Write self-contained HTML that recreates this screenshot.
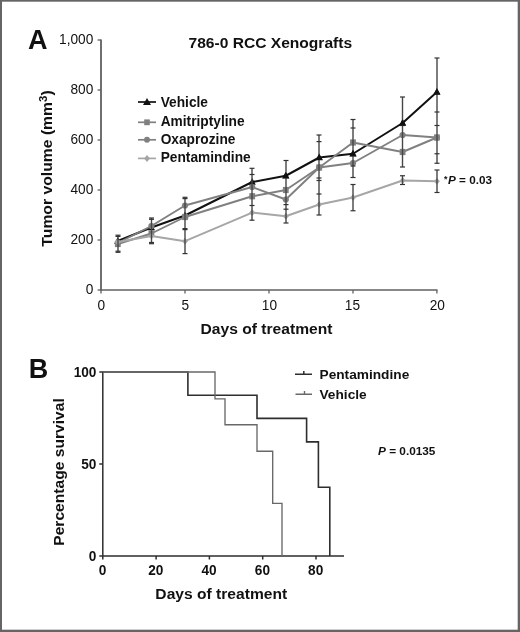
<!DOCTYPE html>
<html><head><meta charset="utf-8"><title>Figure</title>
<style>
html,body{margin:0;padding:0;background:#fff;}
body{width:520px;height:632px;overflow:hidden;font-family:"Liberation Sans",sans-serif;}
svg{display:block}
text{font-family:"Liberation Sans",sans-serif;fill:#111}
.b{font-weight:bold}
</style></head><body>
<svg width="520" height="632" viewBox="0 0 520 632">
<rect x="0" y="0" width="520" height="632" fill="#fff"/>
<g fill="#656565"><rect x="0" y="0" width="2" height="632"/><rect x="0" y="0" width="520" height="1.7"/><rect x="517.7" y="0" width="2.3" height="632"/><rect x="0" y="629.7" width="520" height="2.3"/></g>

<g stroke="#606060" stroke-width="1.7" fill="none">
<path d="M101.0,39.4V290.7" stroke-width="1.8"/>
<path d="M101.0,290.0H437.5" stroke-width="1.4"/>
<path d="M97.6,290.0H101.0" stroke-width="1.3"/>
<path d="M97.6,240.0H101.0" stroke-width="1.3"/>
<path d="M97.6,190.0H101.0" stroke-width="1.3"/>
<path d="M97.6,140.0H101.0" stroke-width="1.3"/>
<path d="M97.6,90.0H101.0" stroke-width="1.3"/>
<path d="M97.6,40.0H101.0" stroke-width="1.3"/>
<path d="M101.0,290.0V293.4" stroke-width="1.3"/>
<path d="M185.0,290.0V293.4" stroke-width="1.3"/>
<path d="M269.0,290.0V293.4" stroke-width="1.3"/>
<path d="M353.0,290.0V293.4" stroke-width="1.3"/>
<path d="M436.9,290.0V293.4" stroke-width="1.3"/>
</g>
<polyline points="117.8,241 151.4,227.5 185.0,215.5 252.2,182 285.8,175.75 319.2,157.5 353.0,153.75 402.6,123 436.9,92" fill="none" stroke="#111" stroke-width="2.0" stroke-linejoin="round"/>
<path d="M117.8,237L121.4,243.8H114.2Z" fill="#111"/>
<path d="M151.4,223.5L155.0,230.3H147.8Z" fill="#111"/>
<path d="M185.0,211.5L188.6,218.3H181.4Z" fill="#111"/>
<path d="M252.2,178L255.8,184.8H248.6Z" fill="#111"/>
<path d="M285.8,171.75L289.4,178.55H282.2Z" fill="#111"/>
<path d="M319.2,153.5L322.8,160.3H315.6Z" fill="#111"/>
<path d="M353.0,149.75L356.6,156.55H349.4Z" fill="#111"/>
<path d="M402.6,119L406.2,125.8H399.0Z" fill="#111"/>
<path d="M436.9,88L440.5,94.8H433.3Z" fill="#111"/>
<polyline points="117.8,244 151.4,233.5 185.0,217 252.2,196.25 285.8,190 319.2,167.5 353.0,142.5 402.6,152 436.9,137.5" fill="none" stroke="#808080" stroke-width="1.9" stroke-linejoin="round"/>
<rect x="114.9" y="240.9" width="5.8" height="6.2" fill="#808080"/>
<rect x="148.5" y="230.4" width="5.8" height="6.2" fill="#808080"/>
<rect x="182.1" y="213.9" width="5.8" height="6.2" fill="#808080"/>
<rect x="249.3" y="193.15" width="5.8" height="6.2" fill="#808080"/>
<rect x="282.9" y="186.9" width="5.8" height="6.2" fill="#808080"/>
<rect x="316.3" y="164.4" width="5.8" height="6.2" fill="#808080"/>
<rect x="350.1" y="139.4" width="5.8" height="6.2" fill="#808080"/>
<rect x="399.7" y="148.9" width="5.8" height="6.2" fill="#808080"/>
<rect x="434.0" y="134.4" width="5.8" height="6.2" fill="#808080"/>
<polyline points="117.8,243 151.4,226 185.0,205.5 252.2,187 285.8,199.5 319.2,167.5 353.0,163 402.6,135 436.9,137.5" fill="none" stroke="#808080" stroke-width="1.9" stroke-linejoin="round"/>
<circle cx="117.8" cy="243" r="3.1" fill="#808080"/>
<circle cx="151.4" cy="226" r="3.1" fill="#808080"/>
<circle cx="185.0" cy="205.5" r="3.1" fill="#808080"/>
<circle cx="252.2" cy="187" r="3.1" fill="#808080"/>
<circle cx="285.8" cy="199.5" r="3.1" fill="#808080"/>
<circle cx="319.2" cy="167.5" r="3.1" fill="#808080"/>
<circle cx="353.0" cy="163" r="3.1" fill="#808080"/>
<circle cx="402.6" cy="135" r="3.1" fill="#808080"/>
<circle cx="436.9" cy="137.5" r="3.1" fill="#808080"/>
<polyline points="117.8,242 151.4,236 185.0,241.2 252.2,212.6 285.8,216.25 319.2,204.5 353.0,197.5 402.6,180.5 436.9,181.25" fill="none" stroke="#a6a6a6" stroke-width="1.9" stroke-linejoin="round"/>
<path d="M117.8,238.7L120.8,242L117.8,245.3L114.8,242Z" fill="#a6a6a6"/>
<path d="M151.4,232.7L154.4,236L151.4,239.3L148.4,236Z" fill="#a6a6a6"/>
<path d="M185.0,237.89999999999998L188.0,241.2L185.0,244.5L182.0,241.2Z" fill="#a6a6a6"/>
<path d="M252.2,209.29999999999998L255.2,212.6L252.2,215.9L249.2,212.6Z" fill="#a6a6a6"/>
<path d="M285.8,212.95L288.8,216.25L285.8,219.55L282.8,216.25Z" fill="#a6a6a6"/>
<path d="M319.2,201.2L322.2,204.5L319.2,207.8L316.2,204.5Z" fill="#a6a6a6"/>
<path d="M353.0,194.2L356.0,197.5L353.0,200.8L350.0,197.5Z" fill="#a6a6a6"/>
<path d="M402.6,177.2L405.6,180.5L402.6,183.8L399.6,180.5Z" fill="#a6a6a6"/>
<path d="M436.9,177.95L439.9,181.25L436.9,184.55L433.9,181.25Z" fill="#a6a6a6"/>
<g stroke="#464646" stroke-width="1.4" fill="none">
<path d="M118.0,235.2V252.3"/>
<path d="M151.5,218V243.7"/>
<path d="M185.0,197.3V229"/>
<path d="M185.0,229V253.6"/>
<path d="M252.0,168.3V220.2"/>
<path d="M286.0,160.5V223"/>
<path d="M319.0,135V215"/>
<path d="M353.0,119.5V177.5"/>
<path d="M353.0,184.5V210.75"/>
<path d="M402.5,97V167"/>
<path d="M402.5,175.75V184.5"/>
<path d="M437.0,58V163.25"/>
<path d="M437.0,170V192.5"/>
</g>
<g stroke="#333" stroke-width="1.2" fill="none">
<path d="M115.5,235.2H120.5"/>
<path d="M115.5,236.4H120.5"/>
<path d="M115.5,251.2H120.5"/>
<path d="M115.5,252.3H120.5"/>
<path d="M149.0,218H154.0"/>
<path d="M149.0,219.3H154.0"/>
<path d="M149.0,242.5H154.0"/>
<path d="M149.0,243.7H154.0"/>
<path d="M182.5,197.3H187.5"/>
<path d="M182.5,198.6H187.5"/>
<path d="M182.5,228.6H187.5"/>
<path d="M182.5,229.6H187.5"/>
<path d="M182.5,253.6H187.5"/>
<path d="M249.5,168.3H254.5"/>
<path d="M249.5,174.5H254.5"/>
<path d="M249.5,205.5H254.5"/>
<path d="M249.5,220.2H254.5"/>
<path d="M283.5,160.5H288.5"/>
<path d="M283.5,204.6H288.5"/>
<path d="M283.5,209.2H288.5"/>
<path d="M283.5,223H288.5"/>
<path d="M316.5,135H321.5"/>
<path d="M316.5,141.6H321.5"/>
<path d="M316.5,178H321.5"/>
<path d="M316.5,180.5H321.5"/>
<path d="M316.5,194H321.5"/>
<path d="M316.5,215H321.5"/>
<path d="M350.5,119.5H355.5"/>
<path d="M350.5,128H355.5"/>
<path d="M350.5,166H355.5"/>
<path d="M350.5,177.5H355.5"/>
<path d="M350.5,184.5H355.5"/>
<path d="M350.5,210.75H355.5"/>
<path d="M400.0,97H405.0"/>
<path d="M400.0,125.5H405.0"/>
<path d="M400.0,167H405.0"/>
<path d="M400.0,175.75H405.0"/>
<path d="M400.0,184.5H405.0"/>
<path d="M434.5,58H439.5"/>
<path d="M434.5,112H439.5"/>
<path d="M434.5,125.5H439.5"/>
<path d="M434.5,153.75H439.5"/>
<path d="M434.5,163.25H439.5"/>
<path d="M434.5,170H439.5"/>
<path d="M434.5,192.5H439.5"/>
</g>
<path d="M285.8,171.95L289.2,178.35H282.4Z" fill="#111"/>
<path d="M319.2,153.7L322.6,160.1H315.8Z" fill="#111"/>
<path d="M353.0,149.95L356.4,156.35H349.6Z" fill="#111"/>
<path d="M402.6,119.2L406.0,125.6H399.2Z" fill="#111"/>
<path d="M436.9,88.2L440.3,94.6H433.5Z" fill="#111"/>
<text transform="translate(93.3,294.2) scale(0.985,1)" font-size="13.9" text-anchor="end">0</text>
<text transform="translate(93.3,244.2) scale(0.985,1)" font-size="13.9" text-anchor="end">200</text>
<text transform="translate(93.3,194.2) scale(0.985,1)" font-size="13.9" text-anchor="end">400</text>
<text transform="translate(93.3,144.2) scale(0.985,1)" font-size="13.9" text-anchor="end">600</text>
<text transform="translate(93.3,94.2) scale(0.985,1)" font-size="13.9" text-anchor="end">800</text>
<text transform="translate(93.3,44.2) scale(0.985,1)" font-size="13.9" text-anchor="end">1,000</text>
<text transform="translate(101.4,310.2) scale(0.985,1)" font-size="13.9" text-anchor="middle">0</text>
<text transform="translate(185.4,310.2) scale(0.985,1)" font-size="13.9" text-anchor="middle">5</text>
<text transform="translate(269.4,310.2) scale(0.985,1)" font-size="13.9" text-anchor="middle">10</text>
<text transform="translate(352.4,310.2) scale(0.985,1)" font-size="13.9" text-anchor="middle">15</text>
<text transform="translate(437.29999999999995,310.2) scale(0.985,1)" font-size="13.9" text-anchor="middle">20</text>
<text x="28" y="48.6" font-size="27" class="b">A</text>
<text transform="translate(270.3,47.5) scale(1.03,1)" font-size="15.15" class="b" text-anchor="middle">786-0 RCC Xenografts</text>
<text transform="translate(266.5,333.5) scale(1.07,1)" font-size="14.6" class="b" text-anchor="middle">Days of treatment</text>
<text transform="translate(51.5,168.5) rotate(-90) scale(1.07,1)" font-size="14.7" class="b" text-anchor="middle">Tumor volume (mm<tspan font-size="10.6" dy="-4.4">3</tspan><tspan dy="4.4">)</tspan></text>
<path d="M138,102H156" stroke="#111" stroke-width="1.7"/>
<path d="M147,98L151,105H143Z" fill="#111"/>
<text x="160.7" y="107.2" font-size="13.72" class="b">Vehicle</text>
<path d="M138,122.3H156" stroke="#808080" stroke-width="1.7"/>
<rect x="144.2" y="119.39999999999999" width="5.6" height="5.8" fill="#808080"/>
<text x="160.7" y="125.8" font-size="13.72" class="b">Amitriptyline</text>
<path d="M138,139.8H156" stroke="#808080" stroke-width="1.7"/>
<circle cx="147" cy="139.8" r="2.95" fill="#808080"/>
<text x="160.7" y="143.79999999999998" font-size="13.72" class="b">Oxaprozine</text>
<path d="M138,158.4H156" stroke="#a6a6a6" stroke-width="1.7"/>
<path d="M147,154.9L150,158.4L147,161.9L144,158.4Z" fill="#a6a6a6"/>
<text x="160.7" y="162.2" font-size="13.72" class="b">Pentamindine</text>
<text x="444" y="183.5" font-size="11.7" class="b"><tspan font-size="8.8" dy="-2">*</tspan><tspan font-style="italic" dy="2" dx="0.6">P</tspan> = 0.03</text>
<g stroke="#2e2e2e" stroke-width="1.5" fill="none">
<path d="M102.8,371.4V556.0H344"/>
<path d="M99.3,556.0H102.8"/>
<path d="M99.3,464.0H102.8"/>
<path d="M99.3,372.0H102.8"/>
<path d="M102.8,556.0V559.5"/>
<path d="M156.1,556.0V559.5"/>
<path d="M209.4,556.0V559.5"/>
<path d="M262.7,556.0V559.5"/>
<path d="M316.0,556.0V559.5"/>
</g>
<path d="M102.8,372.0H187.9V395.2H257V418.4H306.6V441.9H318.4V487.3H329.8V556.0" fill="none" stroke="#2e2e2e" stroke-width="1.6"/>
<path d="M102.8,372.0H215V398.9H225V424.7H257V451.2H272.7V503.4H282V556.0" fill="none" stroke="#686868" stroke-width="1.35"/>
<text transform="translate(96.4,561.3) scale(0.91,1)" font-size="15" class="b" text-anchor="end">0</text>
<text transform="translate(96.4,469.3) scale(0.91,1)" font-size="15" class="b" text-anchor="end">50</text>
<text transform="translate(96.4,377.3) scale(0.91,1)" font-size="15" class="b" text-anchor="end">100</text>
<text transform="translate(102.5,575.4) scale(0.91,1)" font-size="15" class="b" text-anchor="middle">0</text>
<text transform="translate(155.8,575.4) scale(0.91,1)" font-size="15" class="b" text-anchor="middle">20</text>
<text transform="translate(209.1,575.4) scale(0.91,1)" font-size="15" class="b" text-anchor="middle">40</text>
<text transform="translate(262.4,575.4) scale(0.91,1)" font-size="15" class="b" text-anchor="middle">60</text>
<text transform="translate(315.7,575.4) scale(0.91,1)" font-size="15" class="b" text-anchor="middle">80</text>
<text x="28.7" y="377.6" font-size="27" class="b">B</text>
<text transform="translate(221.3,599.3) scale(1.07,1)" font-size="14.6" class="b" text-anchor="middle">Days of treatment</text>
<text transform="translate(63.8,472) rotate(-90) scale(1.07,1)" font-size="14.6" class="b" text-anchor="middle">Percentage survival</text>
<path d="M295,374.3H312M303.8,371V374.3" stroke="#2e2e2e" stroke-width="1.5" fill="none"/>
<text x="319.5" y="378.9" font-size="13.7" class="b">Pentamindine</text>
<path d="M295.5,394.3H312M304.5,391V394.3" stroke="#686868" stroke-width="1.4" fill="none"/>
<text x="319.5" y="399" font-size="13.7" class="b">Vehicle</text>
<text x="378" y="454.6" font-size="11.8" class="b"><tspan font-style="italic">P</tspan> = 0.0135</text>
</svg>
</body></html>
